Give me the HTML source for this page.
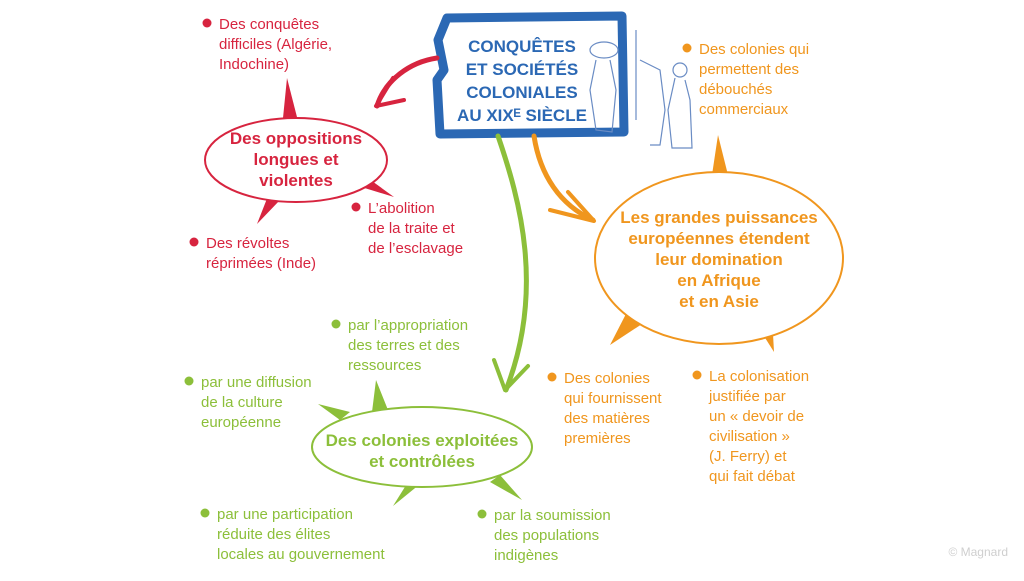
<!DOCTYPE html>
<html><head><meta charset="utf-8"><style>
body{margin:0;width:1024px;height:576px;background:#fff;overflow:hidden;font-family:"Liberation Sans",sans-serif}
svg text{font-family:"Liberation Sans",sans-serif}
</style></head><body>
<svg width="1024" height="576" viewBox="0 0 1024 576" xmlns="http://www.w3.org/2000/svg">
<path d="M447 18 L622 16 L624 132 L440 134 L437 80 L444 70 L438 40 Z" fill="#fff" stroke="#2b68b4" stroke-width="9" stroke-linejoin="round"/>
<g fill="#2b68b4" font-weight="bold" font-size="17" text-anchor="middle">
<text x="522" y="52">CONQUÊTES</text>
<text x="522" y="75">ET SOCIÉTÉS</text>
<text x="522" y="98">COLONIALES</text>
<text x="522" y="121">AU XIXᴱ SIÈCLE</text>
</g>
<g fill="none" stroke="#6a8cc4" stroke-width="1.2">
<ellipse cx="604" cy="50" rx="14" ry="8"/>
<path d="M596 60 L590 90 L596 130 L612 132 L616 90 L610 60"/>
<path d="M636 30 L636 120"/>
<path d="M640 60 L660 70 L665 110 L660 145 L650 145"/>
<circle cx="680" cy="70" r="7"/>
<path d="M675 78 L668 110 L672 148 L692 148 L690 100 L685 80"/>
</g>
<g fill="none" stroke-linecap="round" stroke-linejoin="round">
<path d="M437 58 C410 62 385 80 377 106" stroke="#d7243f" stroke-width="5"/>
<path d="M393 78 L376 106 L404 100" stroke="#d7243f" stroke-width="4"/>
<path d="M534 136 C540 175 560 205 593 220" stroke="#f0961e" stroke-width="5"/>
<path d="M568 192 L594 221 L550 210" stroke="#f0961e" stroke-width="4"/>
<path d="M498 136 C520 200 545 290 506 390" stroke="#8cbf3a" stroke-width="5"/>
<path d="M494 360 L505 390 L528 366" stroke="#8cbf3a" stroke-width="4"/>
</g>
<g fill="#d7243f">
<path d="M283 118 L287 78 L298 121 Z"/>
<path d="M365 176 L394 197 L358 186 Z"/>
<path d="M268 196 L257 224 L280 200 Z"/>
</g>
<ellipse cx="296" cy="160" rx="91" ry="42" fill="#fff" stroke="#d7243f" stroke-width="2"/>
<g fill="#d7243f" font-weight="bold" font-size="17" text-anchor="middle">
<text x="296" y="144">Des oppositions</text>
<text x="296" y="165">longues et</text>
<text x="296" y="186">violentes</text>
</g>
<g fill="#d7243f" font-size="15">
<circle cx="207" cy="23" r="4.5"/><text x="219" y="29">Des conquêtes</text>
<text x="219" y="49">difficiles (Algérie,</text>
<text x="219" y="69">Indochine)</text>
<circle cx="356" cy="207" r="4.5"/><text x="368" y="213">L’abolition</text>
<text x="368" y="233">de la traite et</text>
<text x="368" y="253">de l’esclavage</text>
<circle cx="194" cy="242" r="4.5"/><text x="206" y="248">Des révoltes</text>
<text x="206" y="268">réprimées (Inde)</text>
</g>
<g fill="#f0961e">
<path d="M712 175 L718 135 L728 175 Z"/>
<path d="M628 310 L610 345 L645 322 Z"/>
<path d="M755 322 L774 352 L772 316 Z"/>
</g>
<ellipse cx="719" cy="258" rx="124" ry="86" fill="#fff" stroke="#f0961e" stroke-width="2"/>
<g fill="#f0961e" font-weight="bold" font-size="17" text-anchor="middle">
<text x="719" y="223">Les grandes puissances</text>
<text x="719" y="244">européennes étendent</text>
<text x="719" y="265">leur domination</text>
<text x="719" y="286">en Afrique</text>
<text x="719" y="307">et en Asie</text>
</g>
<g fill="#f0961e" font-size="15">
<circle cx="687" cy="48" r="4.5"/><text x="699" y="54">Des colonies qui</text>
<text x="699" y="74">permettent des</text>
<text x="699" y="94">débouchés</text>
<text x="699" y="114">commerciaux</text>
<circle cx="552" cy="377" r="4.5"/><text x="564" y="383">Des colonies</text>
<text x="564" y="403">qui fournissent</text>
<text x="564" y="423">des matières</text>
<text x="564" y="443">premières</text>
<circle cx="697" cy="375" r="4.5"/><text x="709" y="381">La colonisation</text>
<text x="709" y="401">justifiée par</text>
<text x="709" y="421">un « devoir de</text>
<text x="709" y="441">civilisation »</text>
<text x="709" y="461">(J. Ferry) et</text>
<text x="709" y="481">qui fait débat</text>
</g>
<g fill="#8cbf3a">
<path d="M372 412 L376 380 L388 410 Z"/>
<path d="M340 420 L318 404 L350 412 Z"/>
<path d="M408 482 L393 506 L420 484 Z"/>
<path d="M500 475 L522 500 L490 482 Z"/>
</g>
<ellipse cx="422" cy="447" rx="110" ry="40" fill="#fff" stroke="#8cbf3a" stroke-width="2"/>
<g fill="#8cbf3a" font-weight="bold" font-size="17" text-anchor="middle">
<text x="422" y="446">Des colonies exploitées</text>
<text x="422" y="467">et contrôlées</text>
</g>
<g fill="#8cbf3a" font-size="15">
<circle cx="336" cy="324" r="4.5"/><text x="348" y="330">par l’appropriation</text>
<text x="348" y="350">des terres et des</text>
<text x="348" y="370">ressources</text>
<circle cx="189" cy="381" r="4.5"/><text x="201" y="387">par une diffusion</text>
<text x="201" y="407">de la culture</text>
<text x="201" y="427">européenne</text>
<circle cx="205" cy="513" r="4.5"/><text x="217" y="519">par une participation</text>
<text x="217" y="539">réduite des élites</text>
<text x="217" y="559">locales au gouvernement</text>
<circle cx="482" cy="514" r="4.5"/><text x="494" y="520">par la soumission</text>
<text x="494" y="540">des populations</text>
<text x="494" y="560">indigènes</text>
</g>
<text x="1008" y="556" fill="#cfcfcf" font-size="12" text-anchor="end">© Magnard</text>
</svg>
</body></html>
